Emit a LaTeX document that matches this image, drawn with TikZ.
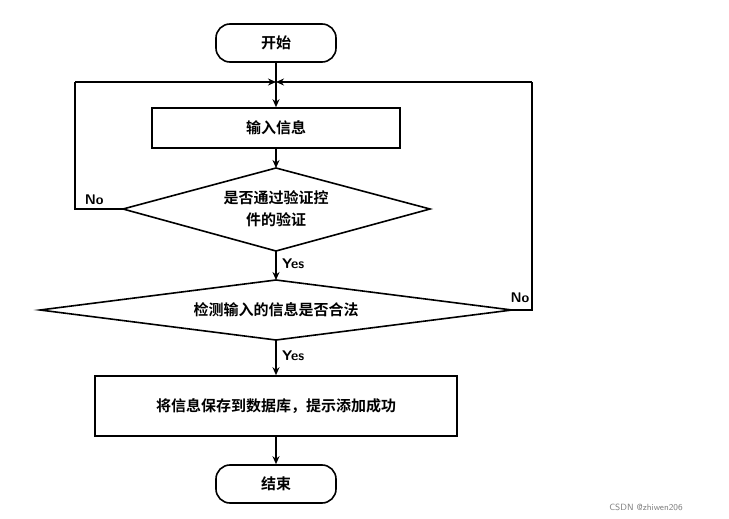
\documentclass[tikz,border=0pt]{standalone}
\usepackage{fontspec}
\newfontfamily\cjk[BoldFont={Noto Sans CJK SC Bold}]{Noto Sans CJK SC}
\usetikzlibrary{shapes.geometric,arrows.meta}
\begin{document}
\begin{tikzpicture}[x=1pt,y=-1pt,
  base/.style={draw,line width=1.6pt,font=\cjk\bfseries\fontsize{15}{19}\selectfont,inner sep=0pt},
  term/.style={base,rounded corners=14pt,minimum width=120pt,minimum height=38pt},
  box/.style={base,minimum height=40pt},
  dia/.style={base,diamond,aspect=3.5},
  arr/.style={line width=1.6pt,-{Stealth[length=8pt,width=7pt]}},
  ln/.style={line width=1.6pt},
  lab/.style={font=\sffamily\bfseries\fontsize{14}{16}\selectfont}]
\useasboundingbox[fill=white] (0,0) rectangle (729,519);
\node[term] (start) at (276,43) {开始};
\node[box,minimum width=248pt] (in) at (276,128) {输入信息};
\draw[base] (123,209)--(276,168)--(430,209)--(276,251)--cycle;
\coordinate (d1l) at (123,209); \coordinate (d1t) at (276,168); \coordinate (d1b) at (276,251);
\node[font=\cjk\bfseries\fontsize{15}{22}\selectfont,align=center] (d1) at (276,209) {是否通过验证控\\件的验证};
\draw[base] (40,310)--(276,280)--(512,310)--(276,340)--cycle;
\coordinate (d2l) at (40,310); \coordinate (d2r) at (512,310); \coordinate (d2t) at (276,280); \coordinate (d2b) at (276,340);
\node[font=\cjk\bfseries\fontsize{15}{19}\selectfont] (d2) at (276,310) {检测输入的信息是否合法};
\node[box,minimum width=362pt,minimum height=60pt] (save) at (276,406) {将信息保存到数据库，提示添加成功};
\node[term] (end) at (276,484) {结束};
\coordinate (m) at (276,82);
\coordinate (ml) at (75,82); \coordinate (mr) at (532,82);
\draw[arr] (start) -- (in);
\draw[arr] (in) -- (d1t);
\draw[arr] (d1b) -- node[lab,right,pos=0.45,xshift=2pt]{Yes} (d2t);
\draw[arr] (d2b) -- node[lab,right,pos=0.45,xshift=2pt]{Yes} (save);
\draw[arr] (save) -- (end);
\draw[ln] (d1l) -- node[lab,above,pos=0.6]{No} (75,209) -- (ml);
\draw[arr] (ml) -- (m);
\draw[ln] (d2r) -- (532,310) -- (mr);
\node[lab] at (520,298) {No};
\draw[arr] (mr) -- (m);
\node[font=\sffamily\fontsize{9}{11}\selectfont,text=gray] (wm) at (646,507) {CSDN @zhiwen206};
\end{tikzpicture}
\end{document}
